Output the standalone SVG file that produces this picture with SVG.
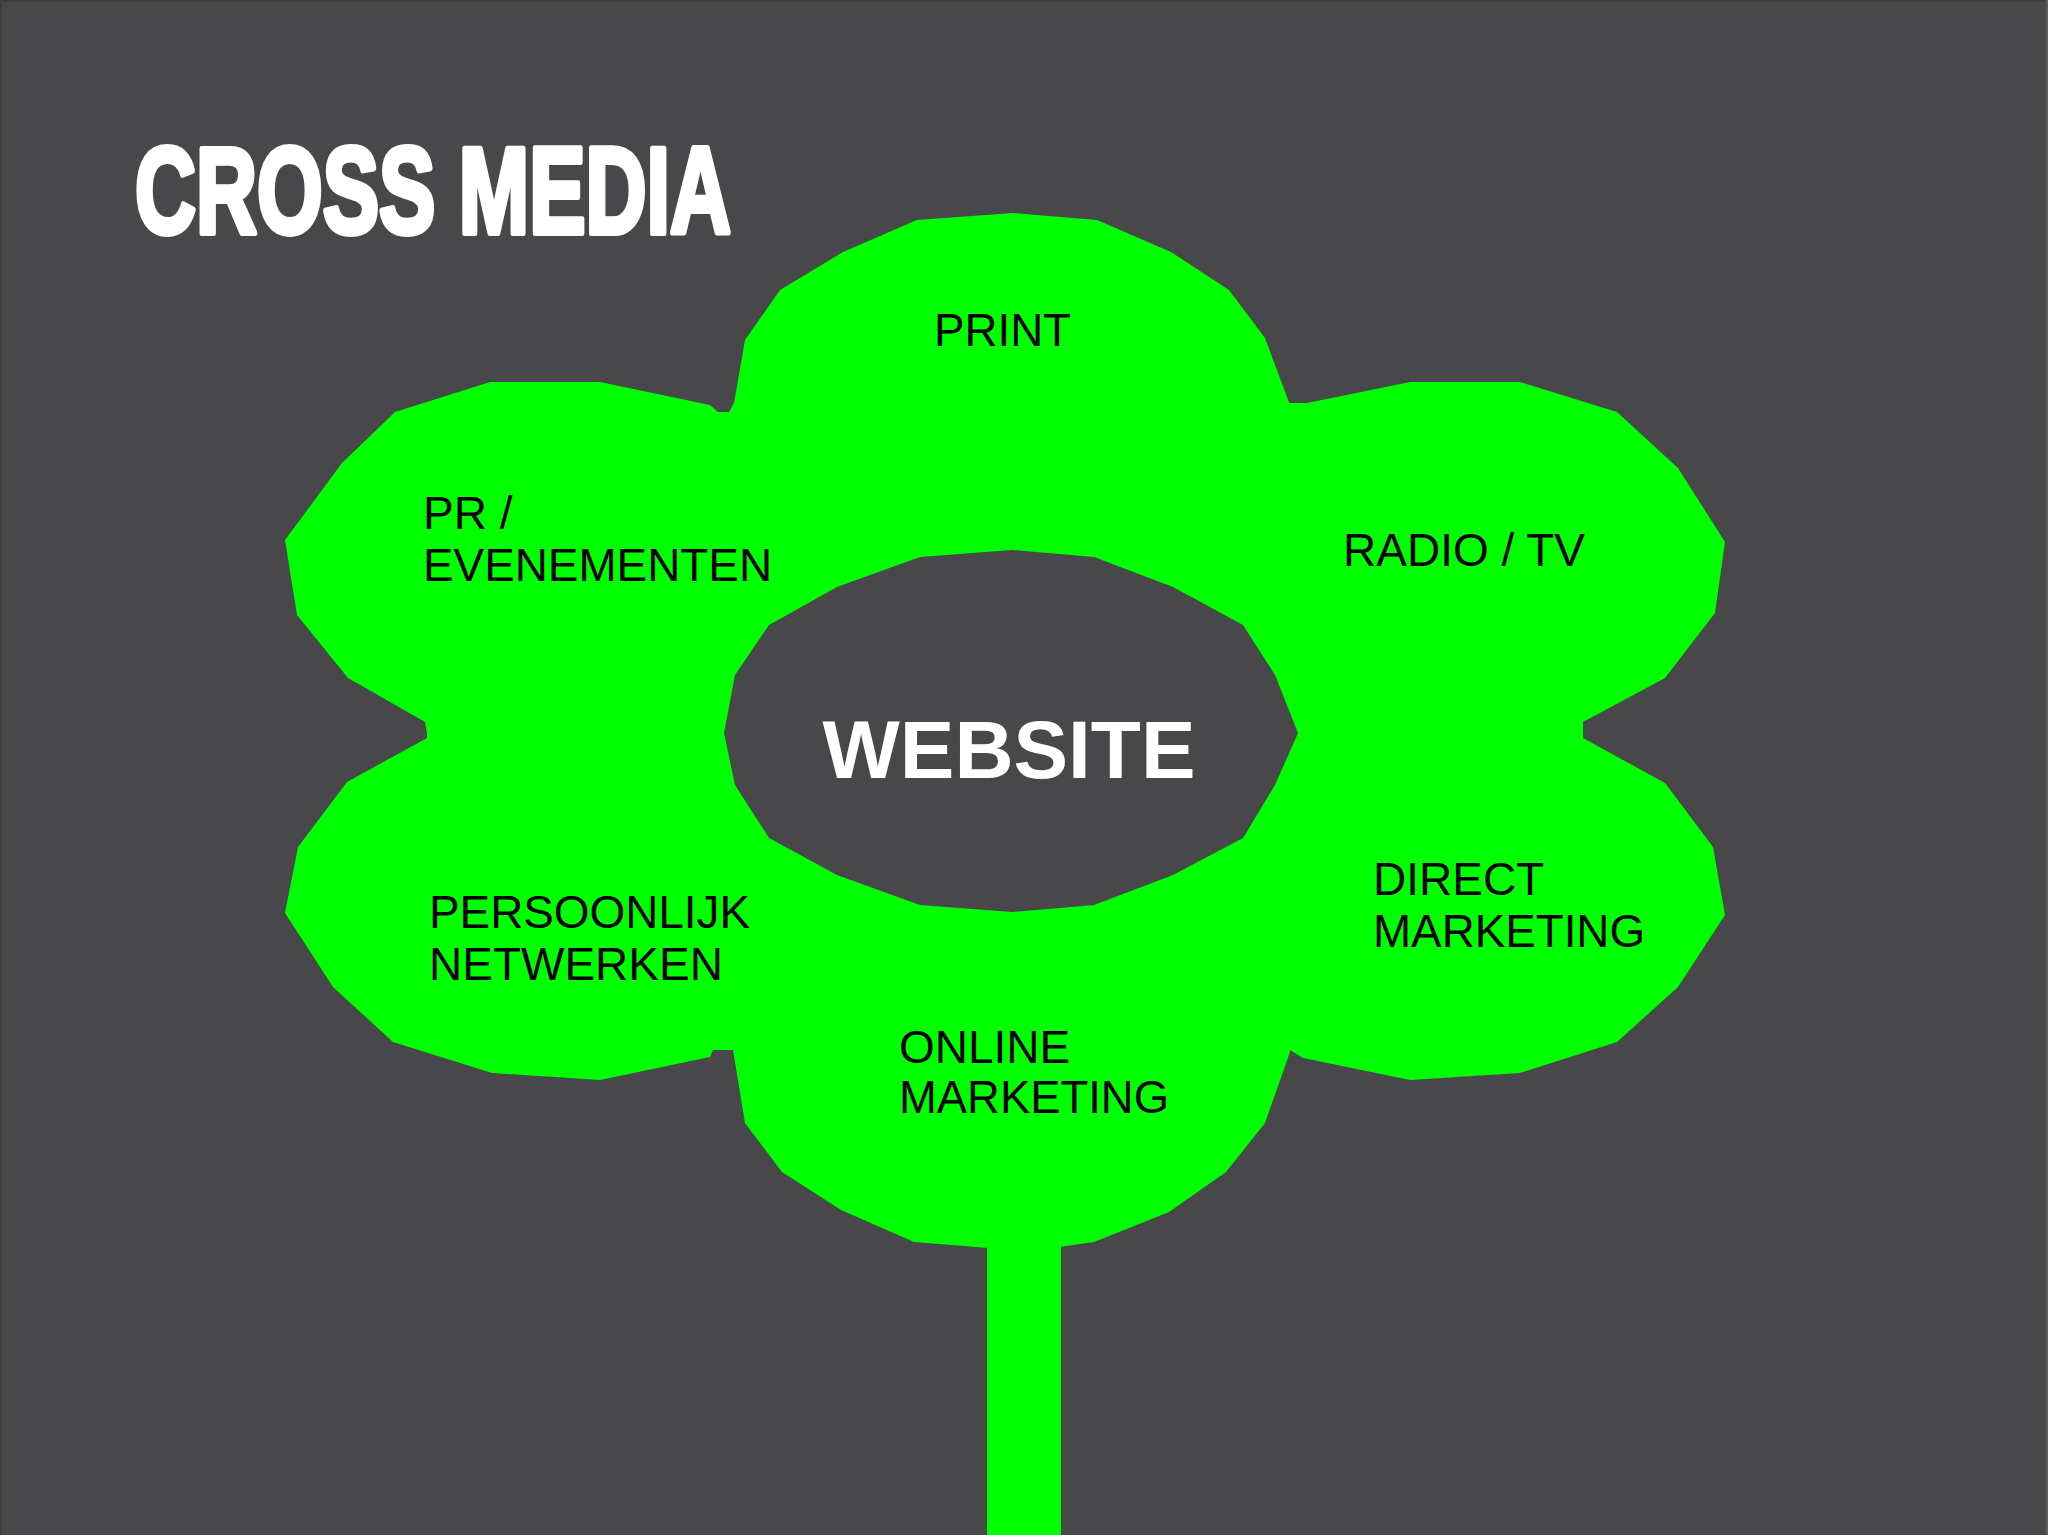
<svg xmlns="http://www.w3.org/2000/svg" width="2048" height="1535" viewBox="0 0 2048 1535">
  <style>
    .petal { fill: #00ff00; }
    .hole { fill: #48484a; }
    .lbl { font-family: "Liberation Sans", Arial, sans-serif; font-size: 46px; fill: #000000; }
    .center { font-family: "Liberation Sans", Arial, sans-serif; font-size: 82px; font-weight: bold; fill: #ffffff; }
    .title { font-family: "Liberation Sans", Arial, sans-serif; font-size: 123px; font-weight: bold; fill: #ffffff; stroke: #ffffff; stroke-width: 6; stroke-linejoin: round; }
  </style>
  <rect x="0" y="0" width="2048" height="1535" fill="#48484a"/>
  <line x1="1" y1="0" x2="1" y2="1535" stroke="#3c3c3c" stroke-width="2"/>
  <line x1="0" y1="1" x2="2048" y2="1" stroke="#3c3c3c" stroke-width="2"/>
  <line x1="2047" y1="0" x2="2047" y2="1535" stroke="#5e5e5e" stroke-width="2"/>

  <g id="title">
    <text class="title" x="135" y="233" textLength="596" lengthAdjust="spacingAndGlyphs">CROSS MEDIA</text>
  </g>

  <g id="flower-shapes">
    <rect id="stem" class="petal" x="987" y="1235" width="74" height="300"/>
    <polygon id="petal-print" class="petal" points="729,412 734,403 745,340 780,290 843,252 917,220 1013,213 1097,220 1171,252 1229,290 1265,338 1290,405 1290,740 729,740"/>
    <polygon id="petal-pr" class="petal" points="733,412 718,412 710,405 600,382 490,382 395,412 342,463 285,540 297,615 348,678 425,722 427,733 760,733 760,412"/>
    <polygon id="petal-persoonlijk" class="petal" points="427,728 427,738 347,782 298,847 285,913 333,987 393,1042 492,1073 600,1080 710,1057 713,1050 733,1050 760,1050 760,728"/>
    <polygon id="petal-online" class="petal" points="733,1050 745,1123 782,1172 841,1210 914,1242 988,1248 1059,1247 1094,1242 1169,1212 1226,1172 1265,1123 1290,1052 1290,725 733,725"/>
    <polygon id="petal-direct" class="petal" points="1290,1050 1303,1058 1410,1080 1520,1073 1617,1042 1678,987 1725,915 1713,847 1665,783 1583,738 1583,728 1270,728 1270,1050"/>
    <polygon id="petal-radio" class="petal" points="1290,403 1307,403 1410,382 1520,382 1617,412 1678,468 1725,542 1715,613 1665,678 1583,722 1583,733 1270,733 1270,403"/>
  </g>

  <g id="node-website">
    <polygon class="hole" points="1012,550 1094,557 1173,587 1243,625 1275,675 1298,733 1275,785 1243,838 1173,875 1094,905 1012,912 920,905 837,875 769,838 735,785 724,733 735,675 769,625 837,587 920,557"/>
    <text class="center" x="1009" y="778" text-anchor="middle" textLength="373" lengthAdjust="spacingAndGlyphs">WEBSITE</text>
  </g>

  <g id="node-print">
    <text class="lbl" x="934" y="346" textLength="137" lengthAdjust="spacingAndGlyphs">PRINT</text>
  </g>
  <g id="node-pr-evenementen">
    <text class="lbl" x="423" y="529">PR /</text>
    <text class="lbl" x="423" y="581" textLength="349" lengthAdjust="spacingAndGlyphs">EVENEMENTEN</text>
  </g>
  <g id="node-radio-tv">
    <text class="lbl" x="1343" y="566" textLength="242" lengthAdjust="spacingAndGlyphs">RADIO / TV</text>
  </g>
  <g id="node-direct-marketing">
    <text class="lbl" x="1373" y="895">DIRECT</text>
    <text class="lbl" x="1373" y="947" textLength="272" lengthAdjust="spacingAndGlyphs">MARKETING</text>
  </g>
  <g id="node-persoonlijk-netwerken">
    <text class="lbl" x="429" y="928" textLength="321" lengthAdjust="spacingAndGlyphs">PERSOONLIJK</text>
    <text class="lbl" x="429" y="980">NETWERKEN</text>
  </g>
  <g id="node-online-marketing">
    <text class="lbl" x="899" y="1063">ONLINE</text>
    <text class="lbl" x="899" y="1113" textLength="270" lengthAdjust="spacingAndGlyphs">MARKETING</text>
  </g>

  <g id="connectors"></g>
</svg>
